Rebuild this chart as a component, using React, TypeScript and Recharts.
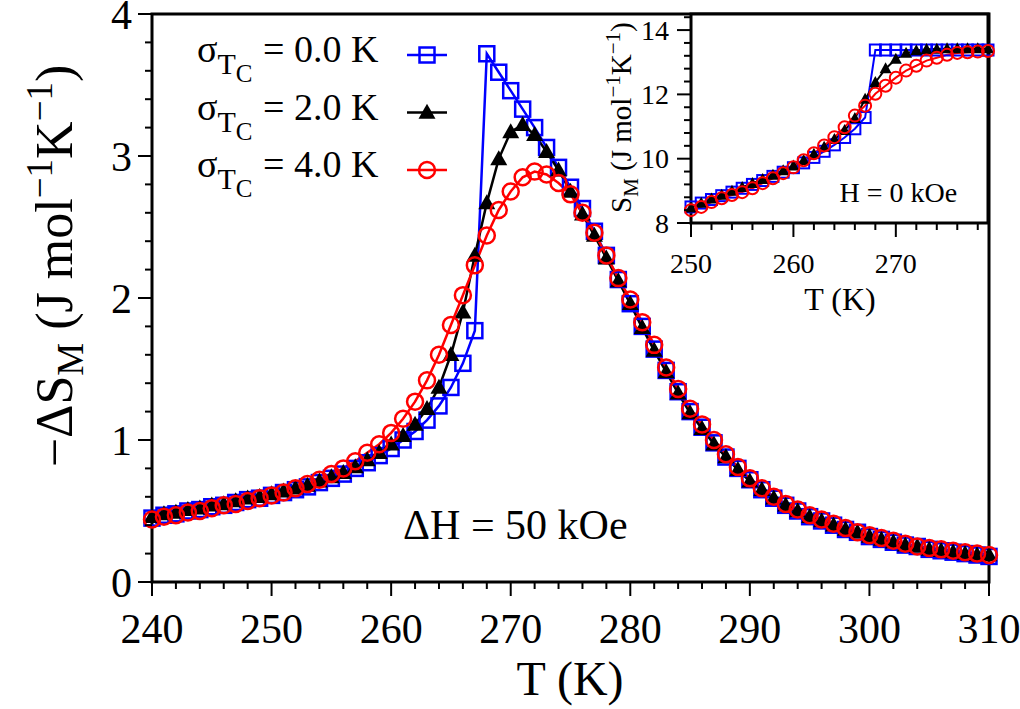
import React from "react";
import {
  LineChart,
  Line,
  XAxis,
  YAxis,
  ReferenceArea,
  ReferenceDot,
  Label,
  Legend,
  CartesianGrid,
} from "recharts";

const SERIF = "'Liberation Serif', 'DejaVu Serif', serif";
const TXT = { fontFamily: SERIF };
const BLUE = "#0000ff";
const RED = "#ff0000";
const BLACK = "#000000";

// main panel: -ΔS_M for ΔH = 50 kOe
const mainT = [
  240, 241, 242, 243, 244, 245, 246, 247, 248, 249,
  250, 251, 252, 253, 254, 255, 256, 257, 258, 259,
  260, 261, 262, 263, 264, 265, 266, 267, 268, 269,
  270, 271, 272, 273, 274, 275, 276, 277, 278, 279,
  280, 281, 282, 283, 284, 285, 286, 287, 288, 289,
  290, 291, 292, 293, 294, 295, 296, 297, 298, 299,
  300, 301, 302, 303, 304, 305, 306, 307, 308, 309,
  310,
];
const dsSigma0 = [
  0.45, 0.47, 0.48, 0.5, 0.51, 0.53, 0.54, 0.56, 0.58, 0.59,
  0.61, 0.63, 0.65, 0.67, 0.7, 0.73, 0.76, 0.8, 0.84, 0.89,
  0.94, 1.0, 1.06, 1.14, 1.24, 1.37, 1.54, 1.77, 3.72, 3.59,
  3.46, 3.33, 3.2, 3.06, 2.92, 2.78, 2.63, 2.47, 2.3, 2.13,
  1.96, 1.8, 1.64, 1.49, 1.34, 1.2, 1.09, 0.98, 0.88, 0.8,
  0.72, 0.65, 0.59, 0.54, 0.5, 0.46, 0.43, 0.4, 0.37, 0.35,
  0.32, 0.3, 0.28, 0.26, 0.25, 0.23, 0.22, 0.21, 0.2, 0.19,
  0.18,
];
const dsSigma2 = [
  0.46, 0.48, 0.49, 0.51, 0.52, 0.54, 0.55, 0.57, 0.59, 0.6,
  0.62, 0.64, 0.66, 0.68, 0.71, 0.74, 0.77, 0.81, 0.86, 0.91,
  0.97, 1.03, 1.11, 1.22, 1.37, 1.6, 1.9, 2.3, 2.67, 2.98,
  3.17, 3.22, 3.15, 3.03, 2.9, 2.75, 2.59, 2.44, 2.28, 2.12,
  1.96, 1.79, 1.63, 1.48, 1.33, 1.19, 1.08, 0.97, 0.88, 0.79,
  0.71, 0.65, 0.59, 0.54, 0.5, 0.46, 0.43, 0.4, 0.37, 0.35,
  0.32, 0.3, 0.28, 0.26, 0.25, 0.23, 0.22, 0.21, 0.2, 0.19,
  0.19,
];
const dsSigma4 = [
  0.44, 0.46, 0.47, 0.49, 0.5, 0.52, 0.54, 0.55, 0.57, 0.59,
  0.61, 0.63, 0.66, 0.69, 0.72, 0.76, 0.8, 0.85, 0.91, 0.97,
  1.05, 1.15, 1.27, 1.42, 1.6, 1.81, 2.02, 2.23, 2.44, 2.62,
  2.75, 2.85, 2.89, 2.87, 2.81, 2.73, 2.6, 2.46, 2.3, 2.14,
  1.99, 1.83, 1.67, 1.51, 1.36, 1.22, 1.11, 1.0, 0.9, 0.81,
  0.73, 0.66, 0.6, 0.55, 0.51, 0.47, 0.44, 0.41, 0.38, 0.35,
  0.33, 0.31, 0.29, 0.27, 0.25, 0.24, 0.23, 0.22, 0.21, 0.2,
  0.19,
];
const mainXTicks = [
  240, 242, 244, 246, 248, 250, 252, 254, 256, 258, 260, 262, 264, 266, 268, 270, 272, 274,
  276, 278, 280, 282, 284, 286, 288, 290, 292, 294, 296, 298, 300, 302, 304, 306, 308, 310,
];
const mainYTicks = [0, 0.2, 0.4, 0.6, 0.8, 1, 1.2, 1.4, 1.6, 1.8, 2, 2.2, 2.4, 2.6, 2.8, 3, 3.2, 3.4, 3.6, 3.8, 4];

// inset: S_M at H = 0 kOe
const insetT = [
  250, 251, 252, 253, 254, 255, 256, 257, 258, 259,
  260, 261, 262, 263, 264, 265, 266, 267, 268, 269,
  270, 271, 272, 273, 274, 275, 276, 277, 278, 279,
];
const sSigma0 = [
  8.5, 8.62, 8.73, 8.85, 8.96, 9.08, 9.2, 9.32, 9.45, 9.58,
  9.72, 9.87, 10.04, 10.23, 10.43, 10.66, 10.93, 11.28, 13.38, 13.38,
  13.38, 13.38, 13.38, 13.38, 13.38, 13.38, 13.38, 13.38, 13.38, 13.38,
];
const sSigma2 = [
  8.47, 8.62, 8.75, 8.87, 8.99, 9.11, 9.23, 9.36, 9.49, 9.63,
  9.78, 9.95, 10.14, 10.36, 10.6, 10.88, 11.25, 11.85, 12.37, 12.8,
  13.1, 13.28, 13.36, 13.4, 13.41, 13.42, 13.42, 13.42, 13.42, 13.42,
];
const sSigma4 = [
  8.4, 8.5, 8.65, 8.77, 8.87, 8.96, 9.08, 9.24, 9.39, 9.55,
  9.73, 9.95, 10.17, 10.41, 10.67, 10.98, 11.34, 11.65, 12.02, 12.27,
  12.52, 12.74, 12.89, 13.05, 13.14, 13.23, 13.29, 13.31, 13.33, 13.35,
];
const insetXTicks = [250, 252, 254, 256, 258, 260, 262, 264, 266, 268, 270, 272, 274, 276, 278];
const insetYTicks = [8, 8.4, 8.8, 9.2, 9.6, 10, 10.4, 10.8, 11.2, 11.6, 12, 12.4, 12.8, 13.2, 13.6, 14, 14.4];

const legendLabels = ["0.0", "2.0", "4.0"];

const mainData = mainT.map((T, i) => ({ T, s0: dsSigma0[i], s2: dsSigma2[i], s4: dsSigma4[i] }));
const insetData = insetT.map((T, i) => ({ T, s0: sSigma0[i], s2: sSigma2[i], s4: sSigma4[i] }));

function squareDot(size: number, color: string, sw: number) {
  return (p: any) => (
    <rect key={`sq-${p.index}`} x={p.cx - size / 2} y={p.cy - size / 2} width={size} height={size}
      fill="none" stroke={color} strokeWidth={sw} />
  );
}

function triangleDot(w: number, h: number) {
  return (p: any) => (
    <polygon key={`tr-${p.index}`}
      points={`${p.cx},${p.cy - h * 0.58} ${p.cx - w / 2},${p.cy + h * 0.42} ${p.cx + w / 2},${p.cy + h * 0.42}`}
      fill={BLACK} />
  );
}

function circleDot(r: number, sw: number) {
  return (p: any) => (
    <circle key={`ci-${p.index}`} cx={p.cx} cy={p.cy} r={r} fill="none" stroke={RED} strokeWidth={sw} />
  );
}

function makeXTick(fontSize: number, labelDy: number, isMajor: (v: number) => boolean) {
  return (props: any) => {
    const { x, y, payload } = props;
    const major = isMajor(payload.value);
    return (
      <g>
        <line x1={x} x2={x} y1={y} y2={y + (major ? 14 : 7)} stroke={BLACK} strokeWidth={2} />
        {major && (
          <text x={x} y={y + labelDy} textAnchor="middle" fontSize={fontSize} style={TXT} fill={BLACK}>
            {payload.value}
          </text>
        )}
      </g>
    );
  };
}

function makeYTick(fontSize: number, gap: number, isMajor: (v: number) => boolean) {
  return (props: any) => {
    const { x, y, payload } = props;
    const major = isMajor(payload.value);
    return (
      <g>
        <line x1={x - (major ? 14 : 7)} x2={x} y1={y} y2={y} stroke={BLACK} strokeWidth={2} />
        {major && (
          <text x={x - gap} y={y} dy="0.35em" textAnchor="end" fontSize={fontSize} style={TXT} fill={BLACK}>
            {payload.value}
          </text>
        )}
      </g>
    );
  };
}

function LegendBox() {
  const rows = [
    { dot: squareDot(15, BLUE, 2.5), color: BLUE },
    { dot: triangleDot(17, 15), color: BLACK },
    { dot: circleDot(8, 2.5), color: RED },
  ];
  return (
    <svg width={280} height={230} style={{ display: "block", overflow: "visible" }}>
      {rows.map((r, i) => {
        const base = 62 + i * 57.5;
        const ly = base - 7;
        return (
          <g key={i}>
            <text x={7} y={base} fontSize={38} style={TXT} fill={BLACK}>
              σ<tspan dy={12} fontSize={30}>T</tspan>
              <tspan dy={8} fontSize={25}>C</tspan>
              <tspan x={73} dy={-20} fontSize={38}>= {legendLabels[i]} K</tspan>
            </text>
            <line x1={217} x2={257} y1={ly} y2={ly} stroke={r.color} strokeWidth={2.5} />
            {r.dot({ cx: 237, cy: ly, index: i })}
          </g>
        );
      })}
    </svg>
  );
}

const MainYTitle = () => (
  <text transform="rotate(-90, 72, 266)" x={72} y={266} textAnchor="middle" fontSize={52} style={TXT} fill={BLACK}>
    −ΔS<tspan dy={11} fontSize={37}>M</tspan>
    <tspan dy={-11}> (J mol</tspan>
    <tspan dy={-20} fontSize={37}>−1</tspan>
    <tspan dy={20}>K</tspan>
    <tspan dy={-20} fontSize={37}>−1</tspan>
    <tspan dy={20}>)</tspan>
  </text>
);

const InsetYTitle = () => (
  <text transform="rotate(-90, 51, 213)" x={51} y={213} textAnchor="start" fontSize={29} style={TXT} fill={BLACK}>
    S<tspan dy={7} fontSize={21}>M</tspan>
    <tspan dy={-7}> (J mol</tspan>
    <tspan dy={-11} fontSize={21}>−1</tspan>
    <tspan dy={11}>K</tspan>
    <tspan dy={-11} fontSize={21}>−1</tspan>
    <tspan dy={11}>)</tspan>
  </text>
);

function noteLabel(text: string, fontSize: number) {
  return (props: any) => {
    const vb = props.viewBox || {};
    const x = (vb.x ?? 0) + (vb.width ?? 0) / 2;
    const y = (vb.y ?? 0) + (vb.height ?? 0) / 2;
    return (
      <text x={x} y={y} textAnchor="start" fontSize={fontSize} style={TXT} fill={BLACK}>
        {text}
      </text>
    );
  };
}

export default function App() {
  return (
    <div style={{ position: "absolute", left: 0, top: 0, width: 1020, height: 709, background: "#fff", fontFamily: SERIF }}>
      <div style={{ position: "absolute", left: 0, top: 0 }}>
        <LineChart width={1020} height={709} data={mainData} margin={{ top: 14, right: 31, bottom: 0, left: 0 }}>
          <XAxis dataKey="T" type="number" domain={[240, 310]} ticks={mainXTicks} interval={0}
            height={127} tickSize={0} tickMargin={0} tickLine={false} axisLine={false}
            tick={makeXTick(42, 61, (v) => v % 10 === 0)}>
            <Label content={() => (
              <text x={570} y={695} textAnchor="middle" fontSize={48} style={TXT} fill={BLACK}>T (K)</text>
            )} />
          </XAxis>
          <YAxis type="number" domain={[0, 4]} ticks={mainYTicks} interval={0} width={152}
            tickSize={0} tickMargin={0} tickLine={false} axisLine={false}
            tick={makeYTick(42, 20, (v) => Number.isInteger(v))}>
            <Label content={() => <MainYTitle />} />
          </YAxis>
          <ReferenceArea x1={240} x2={310} y1={0} y2={4} fill="none" stroke={BLACK} strokeWidth={3} />
          <ReferenceDot x={261} y={0.3} r={1} fill="none" stroke="none" label={noteLabel("ΔH = 50 kOe", 42)} />
          <Line type="linear" dataKey="s0" stroke={BLUE} strokeWidth={2.5} dot={squareDot(15, BLUE, 2.5)}
            activeDot={false} isAnimationActive={false} />
          <Line type="linear" dataKey="s2" stroke={BLACK} strokeWidth={2.5} dot={triangleDot(17, 15)}
            activeDot={false} isAnimationActive={false} />
          <Line type="linear" dataKey="s4" stroke={RED} strokeWidth={2.5} dot={circleDot(8, 2.5)}
            activeDot={false} isAnimationActive={false} />
          <Legend layout="horizontal" verticalAlign="middle" align="center"
            wrapperStyle={{ left: 190, top: 0, width: 280, height: 230 }} content={() => <LegendBox />} />
        </LineChart>
      </div>
      <div style={{ position: "absolute", left: 580, top: 0 }}>
        <LineChart width={440} height={330} data={insetData} margin={{ top: 14, right: 32, bottom: 0, left: 0 }}>
          <CartesianGrid fill="#fff" horizontal={false} vertical={false} />
          <XAxis dataKey="T" type="number" domain={[250, 279]} ticks={insetXTicks} interval={0}
            height={107} tickSize={0} tickMargin={0} tickLine={false} axisLine={false}
            tick={makeXTick(28, 50, (v) => v % 10 === 0)}>
            <Label content={() => (
              <text x={260} y={310} textAnchor="middle" fontSize={32} style={TXT} fill={BLACK}>T (K)</text>
            )} />
          </XAxis>
          <YAxis type="number" domain={[8, 14.5]} ticks={insetYTicks} interval={0} width={111}
            tickSize={0} tickMargin={0} tickLine={false} axisLine={false}
            tick={makeYTick(28, 22, (v) => Number.isInteger(v) && v % 2 === 0)}>
            <Label content={() => <InsetYTitle />} />
          </YAxis>
          <ReferenceArea x1={250} x2={279} y1={8} y2={14.5} fill="none" stroke={BLACK} strokeWidth={3} />
          <ReferenceDot x={264.5} y={8.65} r={1} fill="none" stroke="none" label={noteLabel("H = 0 kOe", 28)} />
          <Line type="linear" dataKey="s0" stroke={BLUE} strokeWidth={2} dot={squareDot(11, BLUE, 2)}
            activeDot={false} isAnimationActive={false} />
          <Line type="linear" dataKey="s2" stroke={BLACK} strokeWidth={2} dot={triangleDot(12, 11)}
            activeDot={false} isAnimationActive={false} />
          <Line type="linear" dataKey="s4" stroke={RED} strokeWidth={2} dot={circleDot(6, 2)}
            activeDot={false} isAnimationActive={false} />
        </LineChart>
      </div>
    </div>
  );
}
